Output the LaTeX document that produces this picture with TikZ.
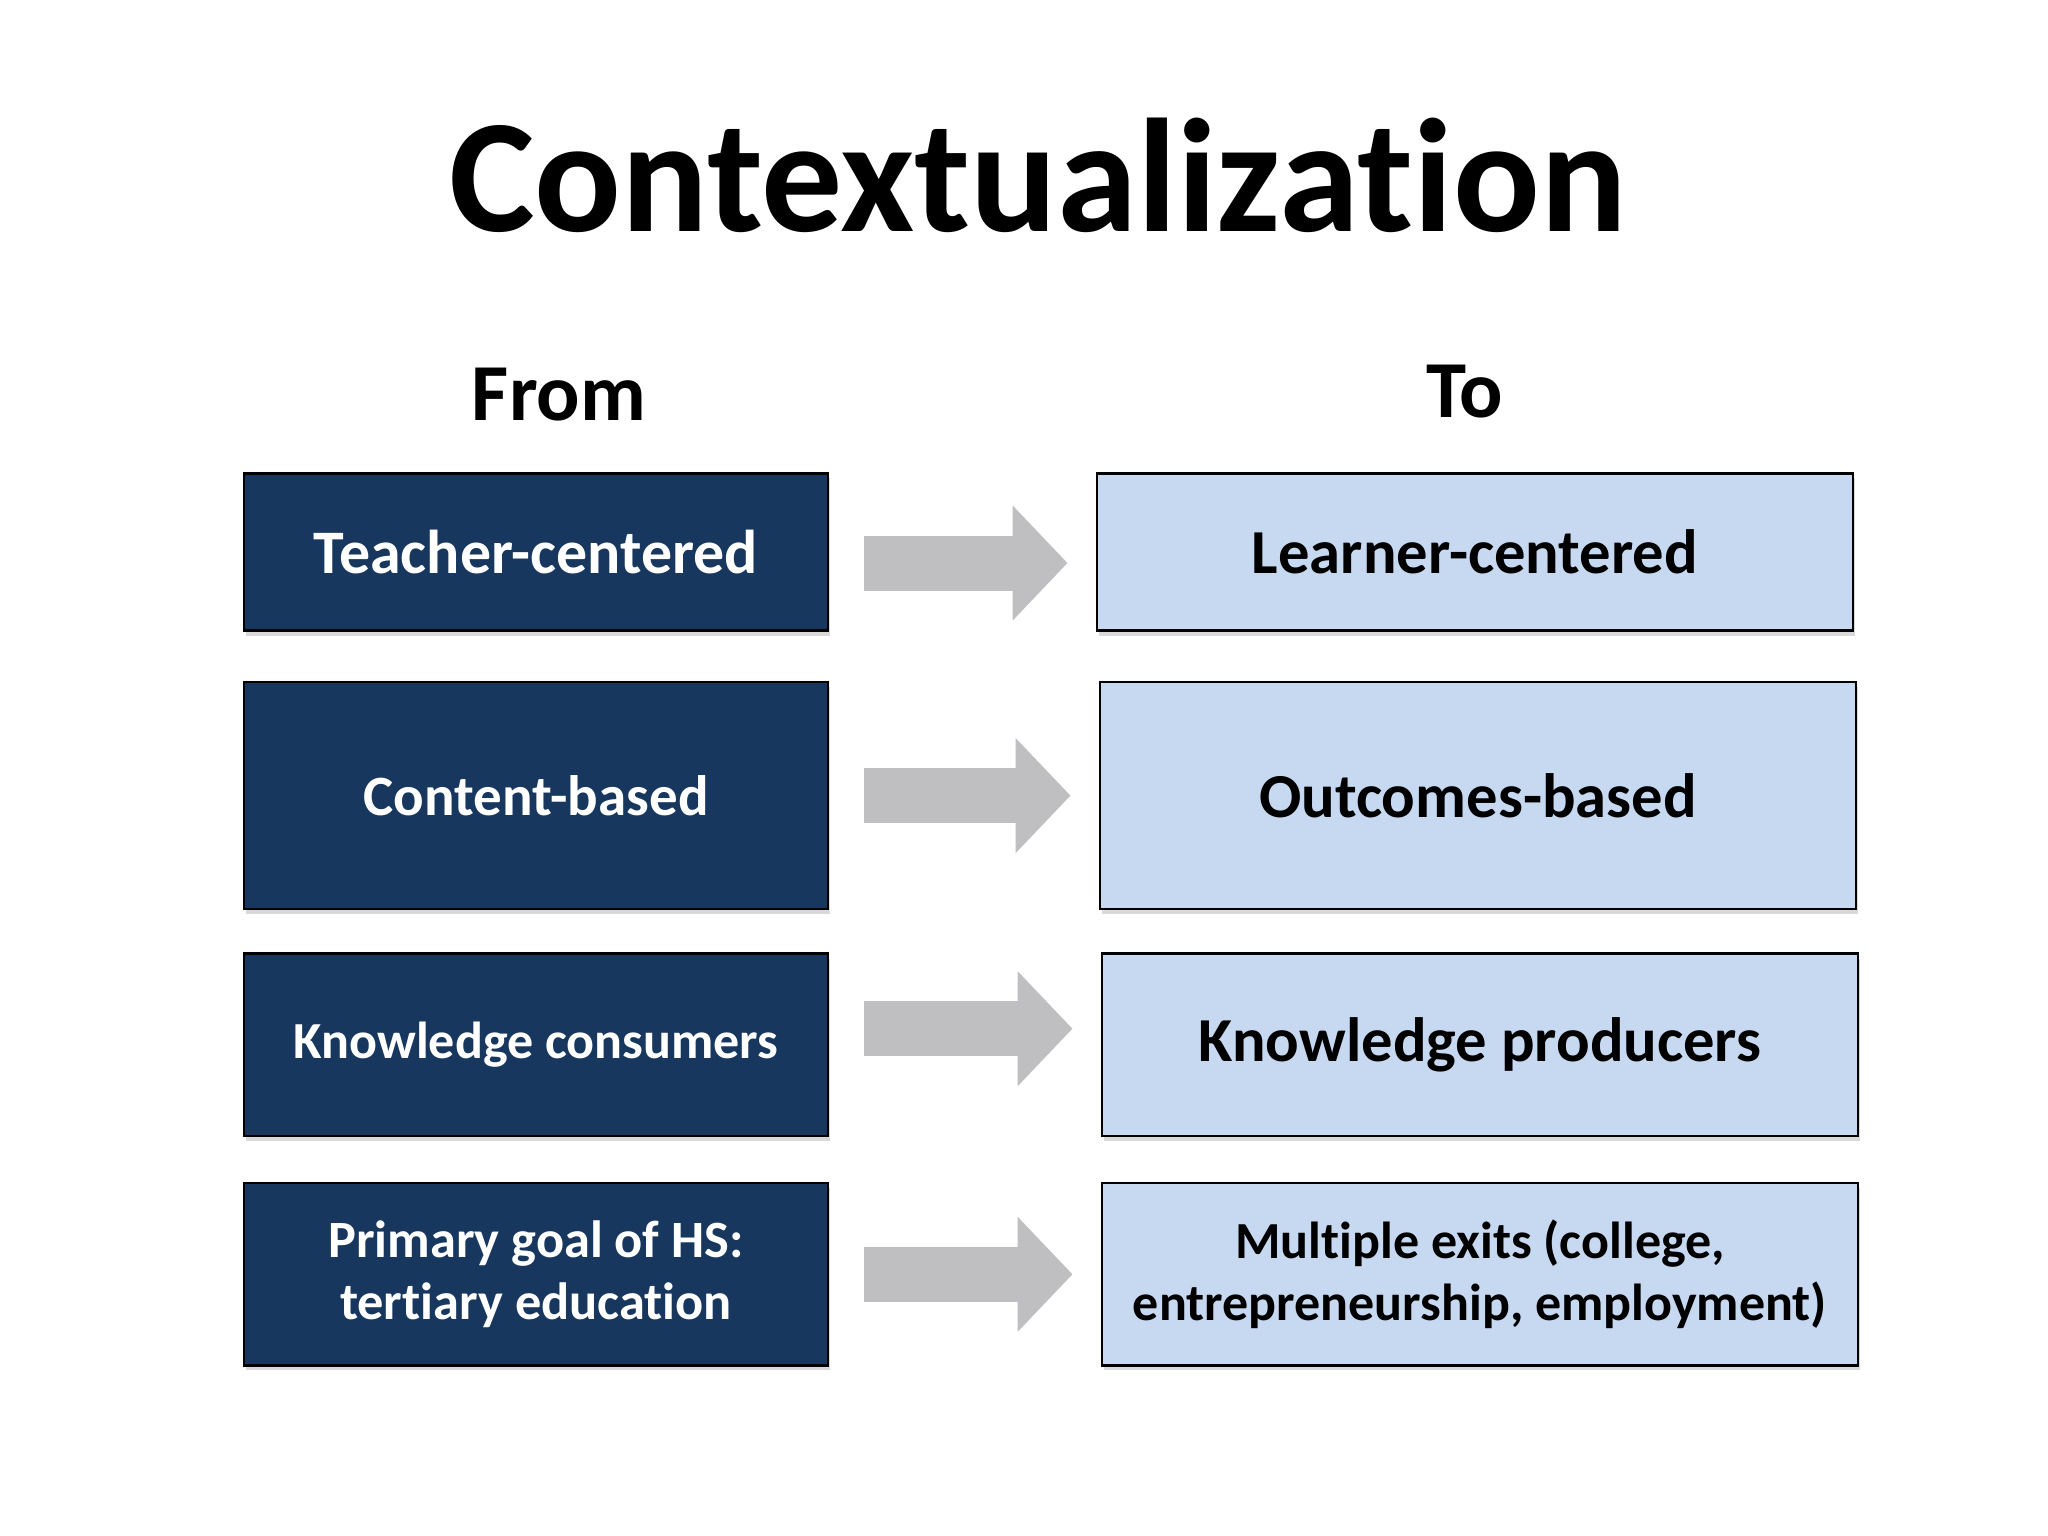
\documentclass[tikz,border=0pt]{standalone}
\usepackage{fontspec}
\setmainfont{Carlito}[Ligatures=NoCommon]
\usetikzlibrary{positioning, arrows.meta, shadows}
\definecolor{navybox}{HTML}{17375E}
\definecolor{paleblue}{HTML}{C6D9F1}
\definecolor{arrowgray}{HTML}{BFBEC1}

\begin{document}
\begin{tikzpicture}[
    x=0.01cm, y=-0.01cm,
    frombox/.style={rectangle, draw=black, fill=navybox, line width=0.7pt,
                    minimum width=5.84cm, align=center, text=white,
                    font=\fontsize{17.6}{21}\selectfont\bfseries,
                    drop shadow={shadow xshift=0.02cm, shadow yshift=-0.05cm, opacity=0.3}},
    tobox/.style={rectangle, draw=black, fill=paleblue, line width=0.7pt,
                  minimum width=7.56cm, align=center, text=black,
                  font=\fontsize{17.8}{21}\selectfont\bfseries,
                  drop shadow={shadow xshift=0.02cm, shadow yshift=-0.05cm, opacity=0.3}},
    changearrow/.style={-{Triangle[length=0.55cm, width=1.12cm]}, line width=0.55cm,
                        arrowgray, shorten <=0.35cm, shorten >=0.28cm},
    head/.style={anchor=base, font=\fontsize{23}{27}\selectfont\bfseries},
    node distance=0.45cm and 2.69cm
]
    \useasboundingbox (0,0) rectangle (2048,1536);

    % Title
    \node[anchor=base, font=\fontsize{46}{50}\selectfont\bfseries] (title) at (1038,231) {Contextualization};
    \node[head] (from) at (559,420) {From};
    \node[head] (to) at (1465,417) {To};

    % From column
    \node[frombox, minimum height=1.57cm] (l1) at (536,552) {Teacher-centered};
    \node[frombox, minimum height=2.27cm, below=0.49cm of l1, font=\fontsize{16.2}{20}\selectfont\bfseries] (l2) {Content-based};
    \node[frombox, minimum height=1.82cm, below=0.42cm of l2, font=\fontsize{14.8}{18}\selectfont\bfseries] (l3) {Knowledge consumers};
    \node[frombox, minimum height=1.82cm, below=of l3, font=\fontsize{14.9}{17.6}\selectfont\bfseries] (l4) {Primary goal of HS:\\tertiary education};

    % To column
    \node[tobox, minimum height=1.57cm, right=2.66cm of l1] (r1) {Learner-centered};
    \node[tobox, minimum height=2.27cm, right=of l2] (r2) {Outcomes-based};
    \node[tobox, minimum height=1.82cm, right=2.71cm of l3] (r3) {Knowledge producers};
    \node[tobox, minimum height=1.82cm, right=2.71cm of l4, font=\fontsize{14.8}{17.6}\selectfont\bfseries] (r4) {Multiple exits (college,\\entrepreneurship, employment)};

    % Arrows
    \draw[changearrow] ([yshift=-0.11cm]l1.east) -- ([yshift=-0.11cm]r1.west);
    \draw[changearrow] (l2) -- (r2);
    \draw[changearrow] ([yshift=0.16cm]l3.east) -- ([yshift=0.16cm]r3.west);
    \draw[changearrow] (l4) -- (r4);
\end{tikzpicture}
\end{document}
